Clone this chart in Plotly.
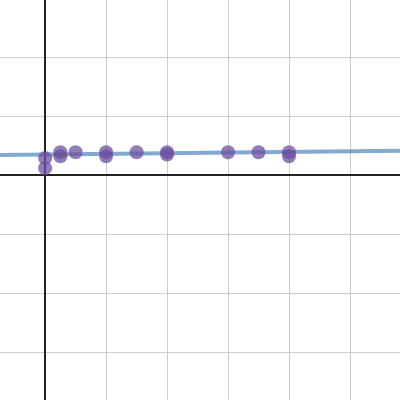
import numpy as np
import plotly.graph_objects as go

x_vals = [0, 0, 0.25, 0.25, 0.5, 1, 1, 1.5, 2, 2, 3, 3.5, 4, 4]
y_vals = [0.29, 0.12, 0.39, 0.32, 0.39, 0.39, 0.32, 0.39, 0.39, 0.35, 0.39, 0.39, 0.39, 0.32]
intercept = 0.35
slope = 0.011

xr = [-0.74, 5.82]
yr = [-3.81, 2.97]
lx = np.array(xr)
ly = intercept + slope * lx

fig = go.Figure()
fig.add_trace(go.Scatter(x=lx, y=ly, mode="lines",
                         line=dict(color="rgba(45,112,179,0.6)", width=4), hoverinfo="skip"))
fig.add_trace(go.Scatter(x=x_vals, y=y_vals, mode="markers",
                         marker=dict(color="rgba(110,80,160,0.75)", size=14, line=dict(width=0))))
ax = dict(showgrid=True, gridcolor="#cccccc", gridwidth=1, dtick=1, tick0=0,
          showticklabels=False, zeroline=True, zerolinecolor="#222", zerolinewidth=1.5,
          showline=False, ticks="", fixedrange=True)
fig.update_layout(width=400, height=400, autosize=False, margin=dict(l=0, r=0, t=0, b=0, pad=0),
                  plot_bgcolor="white", paper_bgcolor="white", showlegend=False,
                  xaxis=dict(range=xr, **ax), yaxis=dict(range=yr, **ax))
fig.write_html("out.html", config={"displayModeBar": False})
with open("out.html") as f:
    html = f.read()
html = html.replace("<head>", "<head><style>html,body{margin:0;padding:0;overflow:hidden}</style>", 1)
with open("out.html", "w") as f:
    f.write(html)
